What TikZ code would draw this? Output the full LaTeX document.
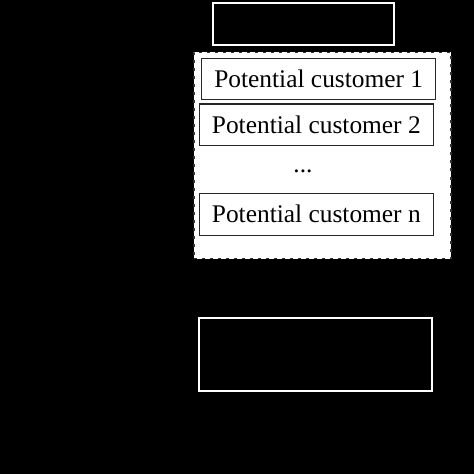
\documentclass[tikz,border=0pt]{standalone}
\usepackage{fontspec}
\setmainfont{Liberation Serif}
\begin{document}
\begin{tikzpicture}[x=1bp,y=-1bp,
  outerbox/.style={draw=white, line width=2bp, fill=black, rectangle, inner sep=0pt},
  custbox/.style={draw=black!85, line width=1.3bp, fill=white, rectangle, inner sep=0pt,
    font=\fontsize{25.5}{30}\selectfont, text=black},
  groupbox/.style={draw=black!80, dashed, dash pattern=on 3bp off 5bp, line width=1.2bp, fill=white, rectangle, inner sep=0pt}]
\fill[black] (0,0) rectangle (474,474);
\useasboundingbox (0,0) rectangle (474,474);
\node[outerbox, minimum width=181bp, minimum height=42bp] (top) at (303.5,24) {};
\node[groupbox, minimum width=257bp, minimum height=206bp] (group) at (322.5,155.5) {};
\node[custbox, minimum width=234bp, minimum height=41bp] (c1) at (318.7,78.8) {Potential customer 1};
\node[custbox, minimum width=234bp, minimum height=41.5bp] (c2) at (316.3,124.9) {Potential customer 2};
\node[font=\fontsize{25.5}{30}\selectfont, text=black, inner sep=0pt] (dots) at (303,171) {...};
\node[custbox, minimum width=234bp, minimum height=42bp] (cn) at (316.3,214.3) {Potential customer n};
\node[outerbox, minimum width=232.7bp, minimum height=72.7bp] (bottom) at (315.4,354.7) {};
\end{tikzpicture}
\end{document}
